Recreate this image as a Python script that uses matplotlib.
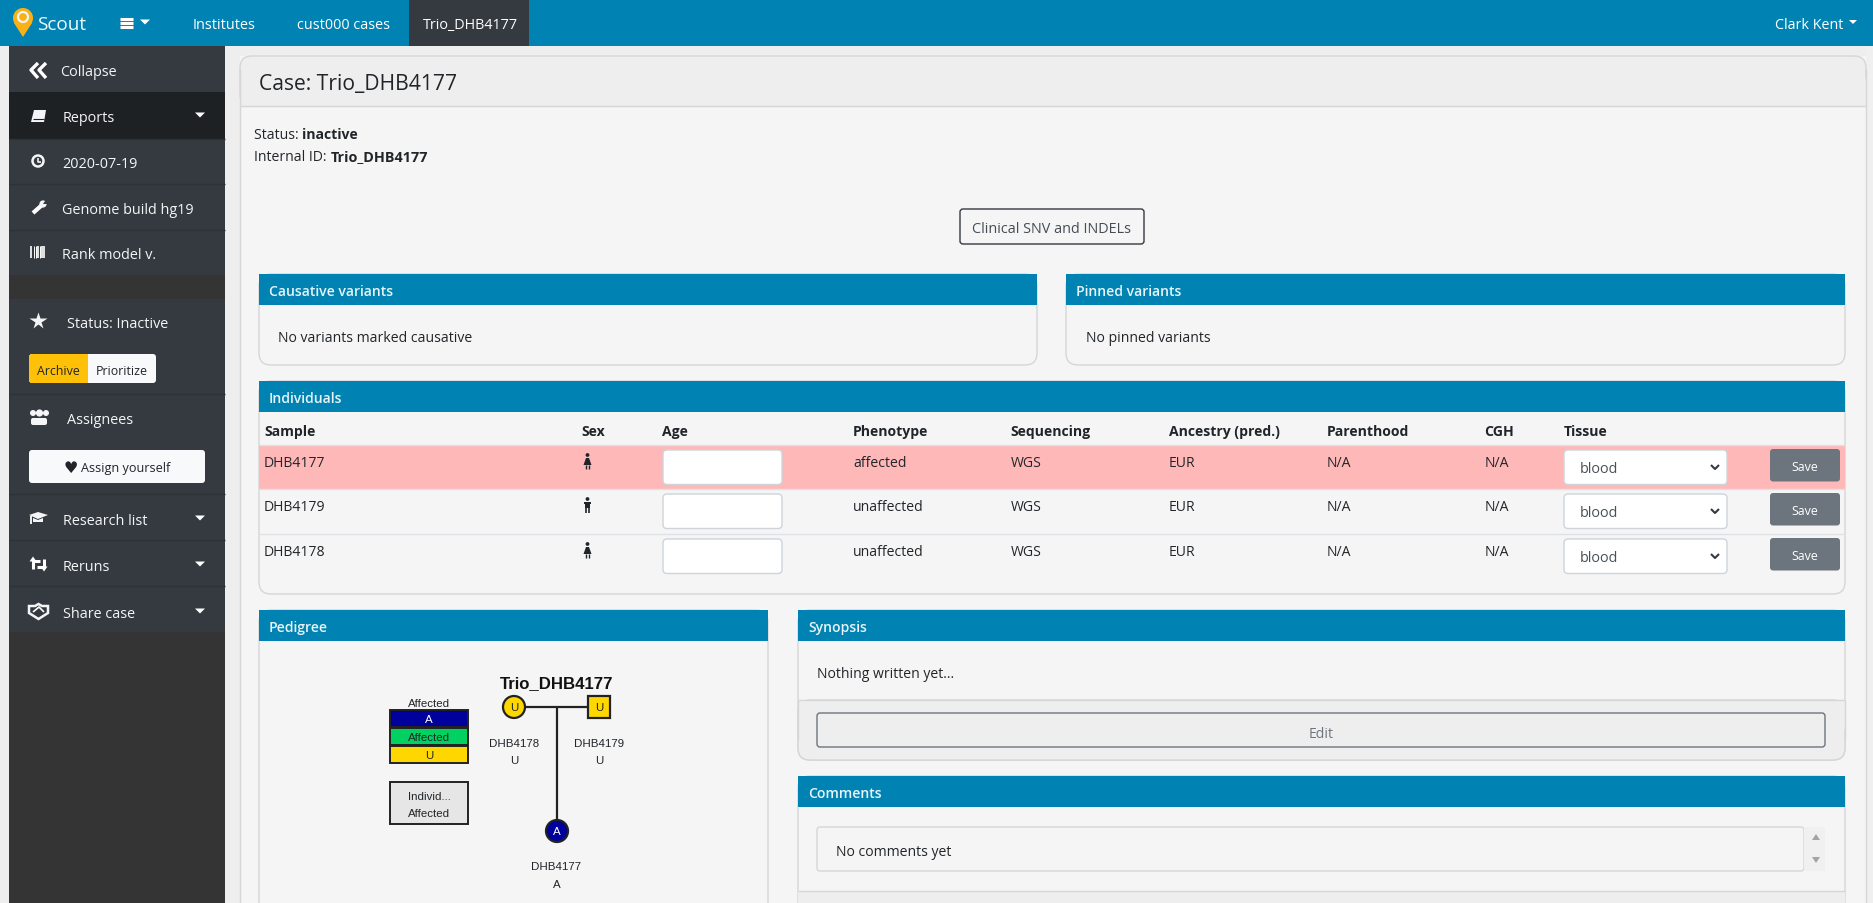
import matplotlib
matplotlib.use('Agg')
import matplotlib.pyplot as plt
from matplotlib.patches import Rectangle, FancyBboxPatch, Circle, Polygon

plt.rcParams['font.family'] = ['Open Sans', 'DejaVu Sans']

#Values shown on the page
nav_links = ['Institutes', 'cust000 cases', 'Trio_DHB4177']
user_name = 'Clark Kent'
side_top = ['Collapse', 'Reports', '2020-07-19', 'Genome build hg19', 'Rank model v.']
side_bottom = ['Research list', 'Reruns', 'Share case']
columns = ['Sample', 'Sex', 'Age', 'Phenotype', 'Sequencing', 'Ancestry (pred.)', 'Parenthood', 'CGH', 'Tissue']
samples = ['DHB4177', 'DHB4179', 'DHB4178']
sexes = ['f', 'm', 'f']
phenotypes = ['affected', 'unaffected', 'unaffected']
sequencing = ['WGS', 'WGS', 'WGS']
ancestry = ['EUR', 'EUR', 'EUR']
parenthood = ['N/A', 'N/A', 'N/A']
cgh = ['N/A', 'N/A', 'N/A']
tissue = ['blood', 'blood', 'blood']
legend_rows = ['A', 'Affected', 'U']
legend_colors = ['#00009c', '#00d161', '#ffd700']

BLUE = '#0083b3'
SIDE = '#343a40'
INK = '#212529'
LINE = '#d6d6d6'

fig = plt.figure(figsize=(18.74, 9.04), dpi=100, facecolor='#eeeeee')
ax = fig.add_axes([0, 0, 1, 1])
ax.set_xlim(0, 1874)
ax.set_ylim(904, 0)
ax.axis('off')


def box(x0, y0, x1, y1, color, edge='none', lw=0, z=1):
	ax.add_patch(Rectangle((x0, y0), x1-x0, y1-y0, facecolor=color, edgecolor=edge, linewidth=lw, zorder=z))


def rbox(x0, y0, x1, y1, color, edge='none', lw=1, r=4, z=1):
	ax.add_patch(FancyBboxPatch((x0+r, y0+r), x1-x0-2*r, y1-y0-2*r, boxstyle='round,pad=%d,rounding_size=%d' % (r, r),
		facecolor=color, edgecolor=edge, linewidth=lw, zorder=z))


def text(x, y, s, px=14.4, color=INK, ha='left', weight='normal', family=None, z=5):
	#sizes are given in screen pixels
	ax.text(x, y-0.8, s, fontsize=px*0.72, color=color, ha=ha, va='center_baseline', fontweight=weight, family=family, zorder=z)


def line(xs, ys, color='white', lw=1.0, z=4):
	ax.plot(xs, ys, color=color, lw=lw, zorder=z, solid_capstyle='butt')


def caret(x, y, color='white', w=5, h=5):
	ax.add_patch(Polygon([(x-w, y-h/2), (x+w, y-h/2), (x, y+h/2)], facecolor=color, zorder=4))


def panel(x0, y0, x1, y1, title):
	rbox(x0, y0, x1, y1, '#f5f5f5', edge=LINE, lw=1, r=12, z=2)
	box(x0, y0, x1, y0+31, BLUE, z=3)
	text(x0+10, y0+16, title, px=14, color='#e8f4f8', weight='semibold')


#top bar
box(0, 0, 1874, 47, BLUE)
box(409, 0, 529, 47, SIDE, z=2)
ax.add_patch(Circle((23, 19), 10, facecolor='#f9b115', zorder=3))
ax.add_patch(Polygon([(14, 24), (32, 24), (23, 38)], facecolor='#f9b115', zorder=3))
ax.add_patch(Circle((23, 18), 5, facecolor='none', edgecolor='#f5f5f5', linewidth=1.6, zorder=4))
text(37, 24, 'Scout', px=19, color='#f0f8fb')
for yy in [20, 24, 28]:
	line([120, 133], [yy, yy], lw=2.2)
caret(145, 23)
for xx, name in zip([193, 297, 423], nav_links):
	text(xx, 24, name, px=14.4, color='white')
text(1775, 24, user_name, px=14.2, color='white')
caret(1853, 23, w=4, h=4)

#sidebar
box(9, 47, 225, 904, '#343434')
tops = [47, 93, 140, 185, 231]
bottoms = [93, 140, 185, 231, 276]
for i, name in enumerate(side_top):
	box(9, tops[i], 225, bottoms[i], '#1d2124' if name == 'Reports' else SIDE, z=2)
	if i > 1:
		line([9, 225], [tops[i], tops[i]], color='#2c3238', lw=1)
	text(60.5 if i == 0 else 62.5, (tops[i]+bottoms[i])/2+1, name, px=14.4, color='#f4f5f6')
caret(200, 116, w=5, h=5)
#collapse chevrons
for dx in [0, 8]:
	line([38+dx, 31+dx, 38+dx], [64, 71, 79], lw=2.4)
#book
ax.add_patch(Polygon([(34, 111), (46, 111), (44, 123), (31, 123)], facecolor='#f4f5f6', zorder=4))
line([33, 44], [120, 120], color='#1d2124', lw=0.8)
#clock
ax.add_patch(Circle((38, 162), 5.5, facecolor='none', edgecolor='#f4f5f6', linewidth=1.8, zorder=4))
line([38, 38, 41], [159, 163, 163], lw=1.1)
#wrench
line([33, 42], [214, 206], lw=3)
ax.add_patch(Circle((43, 205), 3.6, facecolor='#f4f5f6', zorder=4))
ax.add_patch(Polygon([(43, 205), (47, 199), (48, 205)], facecolor=SIDE, zorder=5))
#barcode
for xx, w in zip([31.5, 34, 36, 38, 40, 42, 44.5], [1.2, 0.7, 0.7, 1.2, 0.7, 1.2, 1.2]):
	line([xx, xx], [247, 259], lw=w)

box(9, 300, 225, 633, SIDE, z=2)
for yy in [395, 495, 541, 587]:
	line([9, 225], [yy, yy], color='#2c3238', lw=1)
ax.plot([38], [322], marker='*', ms=13, color='#f4f5f6', mec='none', zorder=4)
text(67, 323, 'Status: Inactive', px=14.4, color='#f4f5f6')
rbox(29, 355, 156, 384, '#f8f9fa', r=3, z=3)
rbox(29, 355, 92, 384, '#ffc107', r=3, z=3)
box(88, 355, 100, 384, '#f8f9fa', z=3)
text(58.5, 370.5, 'Archive', px=12.4, color=INK, ha='center')
text(122, 370.5, 'Prioritize', px=12.4, color=INK, ha='center')
#people icon
for xx, yy, rr in [(33, 414, 3), (46, 414, 3), (39.5, 414, 3.6)]:
	ax.add_patch(Circle((xx, yy), rr, facecolor='#f4f5f6', zorder=4))
rbox(31, 419, 47, 426, '#f4f5f6', r=2, z=4)
text(67, 419, 'Assignees', px=14.4, color='#f4f5f6')
rbox(29, 451, 205, 484, '#f8f9fa', r=3, z=3)
text(71, 468, '\u2665', px=16, color=INK, ha='center', family='DejaVu Sans')
text(81.5, 468, 'Assign yourself', px=12.6, color=INK)
ys = [519, 565, 612]
for name, yy in zip(side_bottom, ys):
	text(63, yy+1, name, px=14.4, color='#f4f5f6')
	caret(200, yy, w=5, h=5)
#cap
ax.add_patch(Polygon([(29, 516), (38, 513), (48, 516), (38, 520)], facecolor='#f4f5f6', zorder=4))
ax.add_patch(Polygon([(33, 519), (38, 521), (43, 519), (43, 523), (33, 523)], facecolor='#f4f5f6', zorder=4))
line([31, 31], [517, 525], lw=1.3)
#reruns arrows
line([33, 33, 40], [570, 562, 562], lw=2.2)
line([44, 44, 37], [560, 568, 568], lw=2.2)
caret(33, 560, w=3.5, h=-5)
caret(44, 570, w=3.5, h=5)
#handshake
ax.add_patch(Polygon([(29, 607), (35, 607), (38.5, 605), (42, 607), (48, 607), (48, 614), (38.5, 620), (29, 614)],
	facecolor='none', edgecolor='#f4f5f6', linewidth=1.8, zorder=4))
line([33, 39, 44], [613, 608, 613], lw=1.2)

#main card
box(240, 57, 1874, 904, '#f5f5f5', z=1)
box(225, 47, 240, 904, '#eeeeee', z=1)
box(1866, 47, 1874, 904, '#f0f0f0', z=1)
rbox(240, 57, 1866, 107, '#eeeeee', edge=LINE, lw=1, r=12, z=2)
box(240, 80, 1866, 107, '#eeeeee', z=2)
line([240, 240], [70, 904], color=LINE, z=3)
line([1866, 1866], [70, 904], color=LINE, z=3)
line([240, 1866], [107, 107], color=LINE, lw=1, z=3)
text(259, 83, 'Case: Trio_DHB4177', px=21.2)
text(254, 134, 'Status: ', px=14)
text(302, 134, 'inactive', px=14, weight='bold')
text(254, 156, 'Internal ID: ', px=14)
text(331, 156, 'Trio_DHB4177', px=14.4, weight='bold')

rbox(960, 210, 1144, 245, '#f5f5f5', edge='#343a40', lw=1, r=3, z=2)
text(1052, 228, 'Clinical SNV and INDELs', px=14.4, color='#454c53', ha='center')

panel(259, 275, 1037, 366, 'Causative variants')
text(278, 337, 'No variants marked causative', px=14)
panel(1066, 275, 1845, 366, 'Pinned variants')
text(1086, 337, 'No pinned variants', px=14)

#individuals table
panel(259, 382, 1845, 595, 'Individuals')
col_x = [264, 581.5, 662, 853, 1010.5, 1169, 1327, 1484.5, 1564]
for xx, name in zip(col_x, columns):
	text(xx, 431, name, px=14, weight='bold')
row_top = [446, 490, 535]
box(259, 446, 1845, 490, '#ffb8b8', z=3)
for yy in [446, 490, 535]:
	line([259, 1845], [yy, yy], color='#dee2e6', lw=1)
for i in range(3):
	ty = row_top[i]+16
	text(col_x[0], ty, samples[i], px=14)
	hx, hy = 587.5, row_top[i]+10
	ax.add_patch(Circle((hx, hy), 1.9, facecolor='#212529', zorder=5))
	if sexes[i] == 'f':
		ax.add_patch(Polygon([(hx-1.5, hy+3), (hx+1.5, hy+3), (hx+4, hy+10), (hx-4, hy+10)], facecolor='#212529', zorder=5))
		line([hx-1.5, hx-1.5], [hy+10, hy+14], color='#212529', lw=1)
		line([hx+1.5, hx+1.5], [hy+10, hy+14], color='#212529', lw=1)
	else:
		box(hx-3.2, hy+3, hx+3.2, hy+5, '#212529', z=5)
		box(hx-2.2, hy+3, hx+2.2, hy+9, '#212529', z=5)
		line([hx-1.3, hx-1.3], [hy+9, hy+14], color='#212529', lw=1.2)
		line([hx+1.3, hx+1.3], [hy+9, hy+14], color='#212529', lw=1.2)
	rbox(663, row_top[i]+5, 782, row_top[i]+39.5, 'white', edge='#ced4da', r=4, z=4)
	text(col_x[3], ty, phenotypes[i], px=14)
	text(col_x[4], ty, sequencing[i], px=14)
	text(col_x[5], ty, ancestry[i], px=14)
	text(col_x[6], ty, parenthood[i], px=14)
	text(col_x[7], ty, cgh[i], px=14)
	rbox(1564, row_top[i]+5, 1727, row_top[i]+39.5, 'white', edge='#ced4da', r=4, z=4)
	text(1580, row_top[i]+22, tissue[i], px=14.4, color='#495057')
	line([1711, 1715, 1719], [row_top[i]+20, row_top[i]+24, row_top[i]+20], color='#343a40', lw=1.5, z=5)
	rbox(1770, row_top[i]+4, 1840, row_top[i]+36.5, '#6c757d', r=3, z=4)
	text(1805, row_top[i]+20.5, 'Save', px=12.4, color='white', ha='center')

#pedigree
panel(259, 611, 768, 930, 'Pedigree')
ped = 'Liberation Sans'
text(557, 683, 'Trio_DHB4177', px=16.7, weight='bold', ha='center', family=ped, color='#111111')
line([525, 589], [708, 708], color='#222222', lw=1.6)
line([557, 557], [708, 821], color='#222222', lw=1.6)
ax.add_patch(Circle((514, 708), 11, facecolor='#ffd700', edgecolor='#222222', linewidth=1.6, zorder=5))
text(514, 708, 'U', px=11.5, ha='center', family=ped, z=6)
box(588.5, 697, 610.5, 719, '#ffd700', edge='#222222', lw=1.6, z=5)
text(599.5, 708, 'U', px=11.5, ha='center', family=ped, z=6)
ax.add_patch(Circle((557, 832), 11, facecolor='#00009c', edgecolor='#222222', linewidth=1.6, zorder=5))
text(556.5, 832, 'A', px=11.5, ha='center', color='white', family=ped, z=6)
for xx, yy, name, status in [(514, 744, samples[2], 'U'), (599.5, 744, samples[1], 'U'), (556.5, 867, samples[0], 'A')]:
	text(xx, yy, name, px=11.5, ha='center', family=ped)
	text(xx, yy+(17 if status == 'U' else 18), status, px=11.5, ha='center', family=ped)
text(429, 704, 'Affected', px=11.5, ha='center', family=ped)
leg_y = [711, 729, 746.5]
for yy, name, col in zip(leg_y, legend_rows, legend_colors):
	box(390, yy, 468, yy+17, col, edge='#222222', lw=1.4, z=4)
	text(429, yy+9, name, px=11.5, ha='center', family=ped, color='white' if name == 'A' else INK)
box(390, 783, 468, 825, '#e6e6e6', edge='#222222', lw=1.4, z=4)
text(429, 797, 'Individ...', px=11.5, ha='center', family=ped)
text(429, 814, 'Affected', px=11.5, ha='center', family=ped)

#synopsis
panel(798, 611, 1845, 761, 'Synopsis')
rbox(798, 701, 1845, 761, '#eeeeee', edge=LINE, lw=1, r=12, z=3)
box(798, 701, 1845, 730, '#eeeeee', edge='none', z=3)
line([798, 798], [701, 740], color=LINE, z=4)
line([1845, 1845], [701, 740], color=LINE, z=4)
line([798, 1845], [701, 701], color=LINE, lw=1, z=4)
text(817, 673, 'Nothing written yet...', px=14)
rbox(817, 714, 1825, 748, '#eeeeee', edge='#6c757d', lw=1, r=3, z=4)
text(1321, 733, 'Edit', px=14, color='#6c757d', ha='center')

#comments
panel(798, 777, 1845, 930, 'Comments')
rbox(817, 828, 1804, 872, '#f5f5f5', edge=LINE, lw=1, r=3, z=3)
box(1804, 828, 1825, 872, '#f0f0f0', z=3)
caret(1816, 838, color='#a3a3a3', w=4, h=-6)
caret(1816, 861, color='#a3a3a3', w=4, h=6)
text(836, 851, 'No comments yet', px=14)
box(798, 892, 1845, 904, '#eeeeee', z=3)
line([798, 1845], [892, 892], color=LINE, lw=1, z=4)

fig.savefig('out.png', dpi=100, facecolor=fig.get_facecolor())
